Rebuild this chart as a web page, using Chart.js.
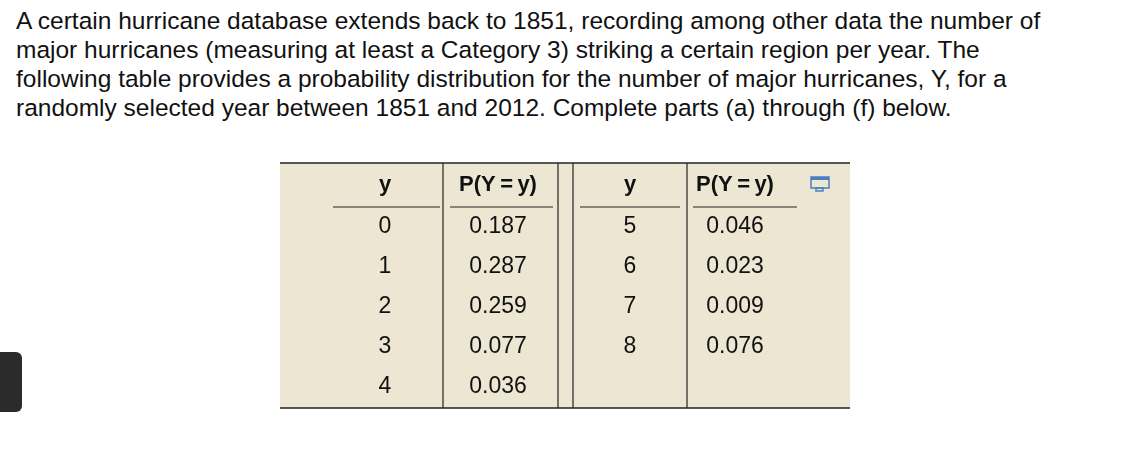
<!DOCTYPE html>
<html><head><meta charset="utf-8">
<script src="https://cdn.jsdelivr.net/npm/chart.js@4/dist/chart.umd.min.js"></script>
<style>
body{margin:0;width:1130px;height:452px;background:#fff;font-family:"Liberation Sans",Arial,sans-serif;position:relative;overflow:hidden}
#txt{position:absolute;left:16px;top:6px;white-space:nowrap;font-size:24.5px;line-height:29px;color:#111}
#wrap{position:absolute;left:280px;top:160px;width:575px;height:255px}
#tab{position:absolute;left:0;top:352px;width:22px;height:60px;background:#2b2b2b;border-radius:0 6px 6px 0}
</style></head><body>
<div id="txt">A certain hurricane database extends back to 1851, recording among other data the number of<br>major hurricanes (measuring at least a Category 3) striking a certain region per year. The<br>following table provides a probability distribution for the number of major hurricanes, Y, for a<br>randomly selected year between 1851 and 2012. Complete parts (a) through (f) below.</div>
<div id="tab"></div>
<div id="wrap"><canvas id="c"></canvas></div>
<script>
const headers = ["y","P(Y\u2009=\u2009y)","y","P(Y\u2009=\u2009y)"];
const yLeft = ["0","1","2","3","4"];
const pLeft = ["0.187","0.287","0.259","0.077","0.036"];
const yRight = ["5","6","7","8"];
const pRight = ["0.046","0.023","0.009","0.076"];

const colEdges=[0,163,278,293,407,570];
const rowEdges=[3,47,87,127,167,207,247];
const tablePlugin={id:'tbl',afterDraw(ch){
  const c=ch.ctx,X=v=>ch.scales.x.getPixelForValue(v),Y=v=>ch.scales.y.getPixelForValue(v);
  c.save();
  c.fillStyle='#ece6d2';c.fillRect(X(0),Y(3),X(570)-X(0),Y(248)-Y(3));
  c.strokeStyle='#222';c.lineWidth=1.5;
  const hl=(a,b,y)=>{c.beginPath();c.moveTo(X(a),Y(y));c.lineTo(X(b),Y(y));c.stroke();};
  const vl=(x)=>{c.beginPath();c.moveTo(X(x),Y(3));c.lineTo(X(x),Y(248));c.stroke();};
  hl(0,570,3);hl(0,570,248);
  c.lineWidth=1.2;
  hl(53,160,47);hl(170,273,47);hl(300,400,47);hl(413,517,47);
  [163,278,293,407].forEach(vl);
  c.fillStyle='#111';c.textAlign='center';c.textBaseline='middle';
  const cx=[105,218,350,455];
  c.font='bold 22px "Liberation Sans", Arial, sans-serif';
  headers.forEach((h,i)=>c.fillText(h,X(cx[i]),Y(25)));
  c.font='23px "Liberation Sans", Arial, sans-serif';
  const rc=i=>(rowEdges[i+1]+rowEdges[i+2])/2;
  yLeft.forEach((v,i)=>c.fillText(v,X(cx[0]),Y(rc(i))));
  pLeft.forEach((v,i)=>c.fillText(v,X(cx[1]),Y(rc(i))));
  yRight.forEach((v,i)=>c.fillText(v,X(cx[2]),Y(rc(i))));
  pRight.forEach((v,i)=>c.fillText(v,X(cx[3]),Y(rc(i))));
  c.strokeStyle='#4a7fc0';c.lineWidth=1.5;c.strokeRect(X(531),Y(17),X(549)-X(531),Y(28)-Y(17));
  c.fillStyle='#4a7fc0';c.fillRect(X(531),Y(17),X(549)-X(531),3);
  c.strokeRect(X(536),Y(28),X(543)-X(536),Y(31)-Y(28));
  c.restore();
}};
new Chart(document.getElementById('c'),{type:'scatter',data:{datasets:[{data:[]}]},
 options:{responsive:true,maintainAspectRatio:false,animation:false,layout:{padding:0},
 plugins:{legend:{display:false},tooltip:{enabled:false}},
 scales:{x:{type:'linear',min:0,max:575,display:false},y:{type:'linear',min:0,max:255,reverse:true,display:false}}},
 plugins:[tablePlugin]});
</script></body></html>
